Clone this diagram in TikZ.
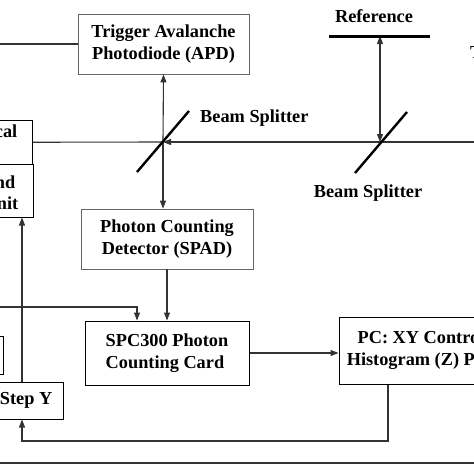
\documentclass[tikz,border=0pt]{standalone}
\usepackage{fontspec}
\setmainfont{Liberation Serif}
\usetikzlibrary{arrows.meta}
\tikzset{
  every node/.style={font=\fontsize{18.3}{22}\selectfont\bfseries, inner sep=0pt},
  lbox/.style={draw=black!60, line width=0.8pt, align=center},
  dbox/.style={draw=black, line width=1pt},
  conn/.style={draw=black!80, line width=1.1pt},
  arr/.style={conn, -{Triangle[length=8pt,width=6pt]}},
  arrboth/.style={conn, {Triangle[length=8pt,width=6pt]}-{Triangle[length=8pt,width=6pt]}},
  splitter/.style={draw=black, line width=2.4pt},
  mirrorline/.style={draw=black, line width=3pt}
}
\begin{document}
\begin{tikzpicture}[x=1pt,y=-1pt]
\useasboundingbox (0,0) rectangle (474,474);
\clip (0,0) rectangle (474,474);
% main boxes
\node[lbox, minimum width=171pt, minimum height=60pt] (apd) at (163.5,44) {Trigger Avalanche\\Photodiode (APD)};
\node[lbox, minimum width=172pt, minimum height=60pt] (spad) at (167,239) {Photon Counting\\Detector (SPAD)};
\node[dbox, align=left, minimum width=164pt, minimum height=64pt] (spc) at (167,353) {SPC300 Photon\\Counting Card};
\node[dbox, align=center, minimum width=164pt, minimum height=67pt] (pc) at (421,350.5) {PC: XY Control\\Histogram (Z) Plot};
% partial boxes on the left
\node[dbox, minimum width=72.5pt, minimum height=44.5pt] (optical) at (-3.75,142.25) {};
\node[dbox, minimum width=73pt, minimum height=52.5pt] (unit) at (-3.5,190.75) {};
\node[dbox, minimum width=33pt, minimum height=38pt] (small) at (-13.5,355) {};
\node[dbox, minimum width=103pt, minimum height=37pt] (stepy) at (11.5,400.5) {};
\node[anchor=east] (opticaltxt) at (17.5,133) {Optical};
\node[anchor=east] (andtxt) at (15.5,182) {and};
\node[anchor=east] (unittxt) at (18.5,203) {Unit};
\node[anchor=east] (steptxt) at (52.5,400) {Step Y};
\node[anchor=west] (ttxt) at (470,53) {T};
% labels
\node (reflabel) at (374,16) {Reference};
\node[anchor=west] (bslabel1) at (200,118) {Beam Splitter};
\node (bslabel2) at (368,193) {Beam Splitter};
% coordinates
\coordinate (bs1) at (163,142);
\coordinate (bs2) at (380,142);
\coordinate (re) at (480,142);
\coordinate (mC) at (380,36);
\coordinate (mL) at (329,36);
\coordinate (mR) at (430,36);
\coordinate (tl) at (-5,44);
\coordinate (fb) at (388,441);
\coordinate (fbL) at (22,441);
\coordinate (sl) at (-5,307);
\coordinate (sr) at (137,307);
\coordinate (bl) at (-5,463);
\coordinate (br) at (480,463);
% beam path
\draw[conn] (tl) -- (apd.west);
\draw[conn] (optical.east) -- (bs1);
\draw[arr] (re) -- (bs1);
\draw[arr] (bs1) -- (apd.south);
\draw[arr] (bs1) -- (bs1 |- spad.north);
\draw[arrboth] (bs2) -- (mC);
\draw[mirrorline] (mL) -- (mR);
\draw[splitter] ([shift={(-26,30)}]bs1) -- ([shift={(26,-31)}]bs1);
\draw[splitter] ([shift={(-25,31)}]bs2) -- ([shift={(27,-30)}]bs2);
% electronics
\draw[arr] (spad.south) -- (spc.north);
\draw[arr] (spc.east) -- (spc.east -| pc.west);
\draw[arr] (pc.south -| fb) -- (fb) -- (fbL) -- (fbL |- stepy.south);
\draw[arr] (stepy.north -| fbL) -- (fbL |- unit.south);
\draw[arr] (sl) -- (sr) -- (sr |- spc.north);
\draw[conn] (bl) -- (br);
\end{tikzpicture}
\end{document}
